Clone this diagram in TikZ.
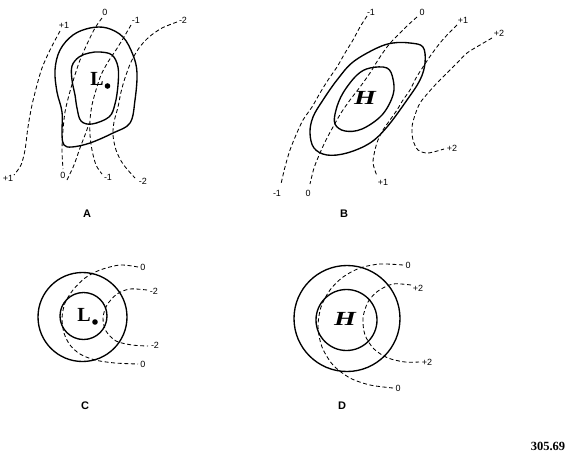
\documentclass[tikz,border=0pt]{standalone}
\usepackage{fontspec}
\setmainfont{Liberation Serif}
\setsansfont{Liberation Sans}
\begin{document}
\begin{tikzpicture}[x=1pt,y=-1pt,
  iso/.style={line width=1.35pt, line join=round},
  bar/.style={dash pattern=on 4pt off 2.6pt, line width=0.85pt},
  lab/.style={font=\sffamily\fontsize{9}{9}\selectfont, inner sep=0pt},
  panel/.style={font=\sffamily\bfseries\fontsize{11}{11}\selectfont, inner sep=0pt},
  ctr/.style={font=\rmfamily\bfseries\fontsize{20}{20}\selectfont, inner sep=0pt},
  hctr/.style={font=\rmfamily\bfseries\itshape\fontsize{20}{20}\selectfont, inner sep=0pt},
  fig/.style={font=\rmfamily\bfseries\fontsize{12.5}{12.5}\selectfont, inner sep=0pt}]
\useasboundingbox (0,0) rectangle (584,459);

% ---------------- Panel A ----------------
\draw[iso] plot[smooth cycle, tension=0.6] coordinates {(90,28) (107,28) (123,37) (133,55) (137,73) (135,100) (130,123) (113,133) (90,143) (72,147) (64,145) (62,135) (62,112) (57,92) (55,70) (60,50) (73,35)};
\draw[iso] plot[smooth cycle, tension=0.6] coordinates {(100,52) (112,55) (118,67) (118,85) (115,104) (109,117) (92,124) (81,121) (77,108) (75,95) (72,80) (72,66) (79,57) (89,53)};
\node[ctr] (aL) at (97,79) {L};
\fill (107.5,86) circle[radius=2.8pt];

\node[lab] (a1t) at (64,25) {+1};
\node[lab] (a0t) at (105,12) {0};
\node[lab] (am1t) at (136,20) {-1};
\node[lab] (am2t) at (183,20) {-2};
\node[lab] (a1b) at (8,178) {+1};
\node[lab] (a0b) at (63,175) {0};
\node[lab] (am1b) at (108,177) {-1};
\node[lab] (am2b) at (143,181) {-2};
\draw[bar] plot[smooth] coordinates {(60,31) (50,50) (42,68) (37,85) (32,105) (28,127) (25,150) (21,165) (14,175)};
\draw[bar] plot[smooth] coordinates {(102,18) (95,28) (88,42) (80,60) (74,78) (69,95) (65,112) (63,130) (62,150) (63,169)};
\draw[bar] plot[smooth] coordinates {(67,180) (74,165) (80,148) (85,135) (89,124)};
\draw[bar] plot[smooth] coordinates {(131,25) (124,37) (116,50) (108,62) (101,75) (96,90) (92,105) (90,120) (90,135) (92,150) (96,165) (102,174)};
\draw[bar] plot[smooth] coordinates {(177,22) (162,28) (149,37) (139,48) (131,62) (125,78) (121,92) (118,107) (114,122) (113,135) (116,150) (123,164) (135,178)};
\node[panel] (pA) at (87,214) {A};

% ---------------- Panel B ----------------
\draw[iso] plot[smooth cycle, tension=0.6] coordinates {(423,47) (410,43) (393,43) (377,48) (353,62) (337,80) (323,100) (313,117) (310,133) (314,148) (327,155) (347,153) (370,143) (387,127) (407,100) (420,80) (425,63)};
\draw[iso] plot[smooth cycle, tension=0.6] coordinates {(387,68) (393,79) (393,95) (382,115) (362,129) (345,131) (335,124) (336,110) (343,93) (357,75) (370,68)};
\node[hctr] (bH) at (365,98) {\scalebox{1.4}[1]{H}};

\node[lab] (bm1t) at (371,12) {-1};
\node[lab] (b0t) at (422,12) {0};
\node[lab] (b1t) at (463,20) {+1};
\node[lab] (b2t) at (499,33) {+2};
\node[lab] (bm1b) at (277,193) {-1};
\node[lab] (b0b) at (308,193) {0};
\node[lab] (b1b) at (383,182) {+1};
\node[lab] (b2b) at (452,148) {+2};
\draw[bar] plot[smooth] coordinates {(367,16) (360,27) (353,40) (345,53) (337,67) (328,80) (320,93) (312,107) (303,120) (296,135) (290,150) (285,167) (281,184)};
\draw[bar] plot[smooth] coordinates {(417,17) (408,25) (400,33) (393,40) (387,47) (378,60) (370,73) (360,87) (350,100) (341,113) (333,127) (326,140) (320,153) (314,168) (310,184)};
\draw[bar] plot[smooth] coordinates {(457,25) (448,34) (440,43) (431,55) (423,67) (416,78) (410,90) (403,100) (397,110) (390,120) (383,130) (378,140) (375,150) (373,163) (377,176)};
\draw[bar] plot[smooth] coordinates {(492,38) (480,45) (467,53) (457,63) (447,73) (437,83) (428,93) (420,103) (415,115) (412,127) (413,140) (418,150) (428,153) (444,149)};
\node[panel] (pB) at (344,214) {B};

% ---------------- Panel C ----------------
\draw[iso] (82.5,317) circle[radius=44.5pt];
\draw[iso] (83.5,316) circle[radius=23.5pt];
\node[ctr] (cL) at (84,315) {L};
\fill (95,322) circle[radius=2.8pt];

\node[lab] (c0t) at (143,267) {0};
\node[lab] (cm2t) at (154,291) {-2};
\node[lab] (cm2b) at (155,345) {-2};
\node[lab] (c0b) at (143,364) {0};
\draw[bar] plot[smooth] coordinates {(138,267) (120,265) (100,270) (85,278) (73,290) (65,303) (62,318) (64,333) (70,345) (80,354) (95,360) (115,363) (138,364)};
\draw[bar] plot[smooth] coordinates {(147,290) (130,289) (117,294) (107,305) (103,318) (106,331) (116,341) (132,345) (148,346)};
\node[panel] (pC) at (85,406) {C};

% ---------------- Panel D ----------------
\draw[iso] (347,318.5) circle[radius=53pt];
\draw[iso] (346.5,320) circle[radius=30.5pt];
\node[hctr] (dH) at (345,319) {\scalebox{1.4}[1]{H}};

\node[lab] (d0t) at (408,265) {0};
\node[lab] (d2t) at (418,288) {+2};
\node[lab] (d2b) at (427,362) {+2};
\node[lab] (d0b) at (398,388) {0};
\draw[bar] plot[smooth] coordinates {(403,265) (380,264) (360,268) (343,277) (330,290) (321,307) (318,327) (322,347) (333,365) (350,378) (370,385) (393,388)};
\draw[bar] plot[smooth] coordinates {(411,285) (393,284) (378,291) (368,302) (363,318) (365,335) (374,349) (388,358) (405,362) (419,362)};
\node[panel] (pD) at (342,406) {D};

\node[fig] (fn) at (548,446) {305.69};
\end{tikzpicture}
\end{document}
